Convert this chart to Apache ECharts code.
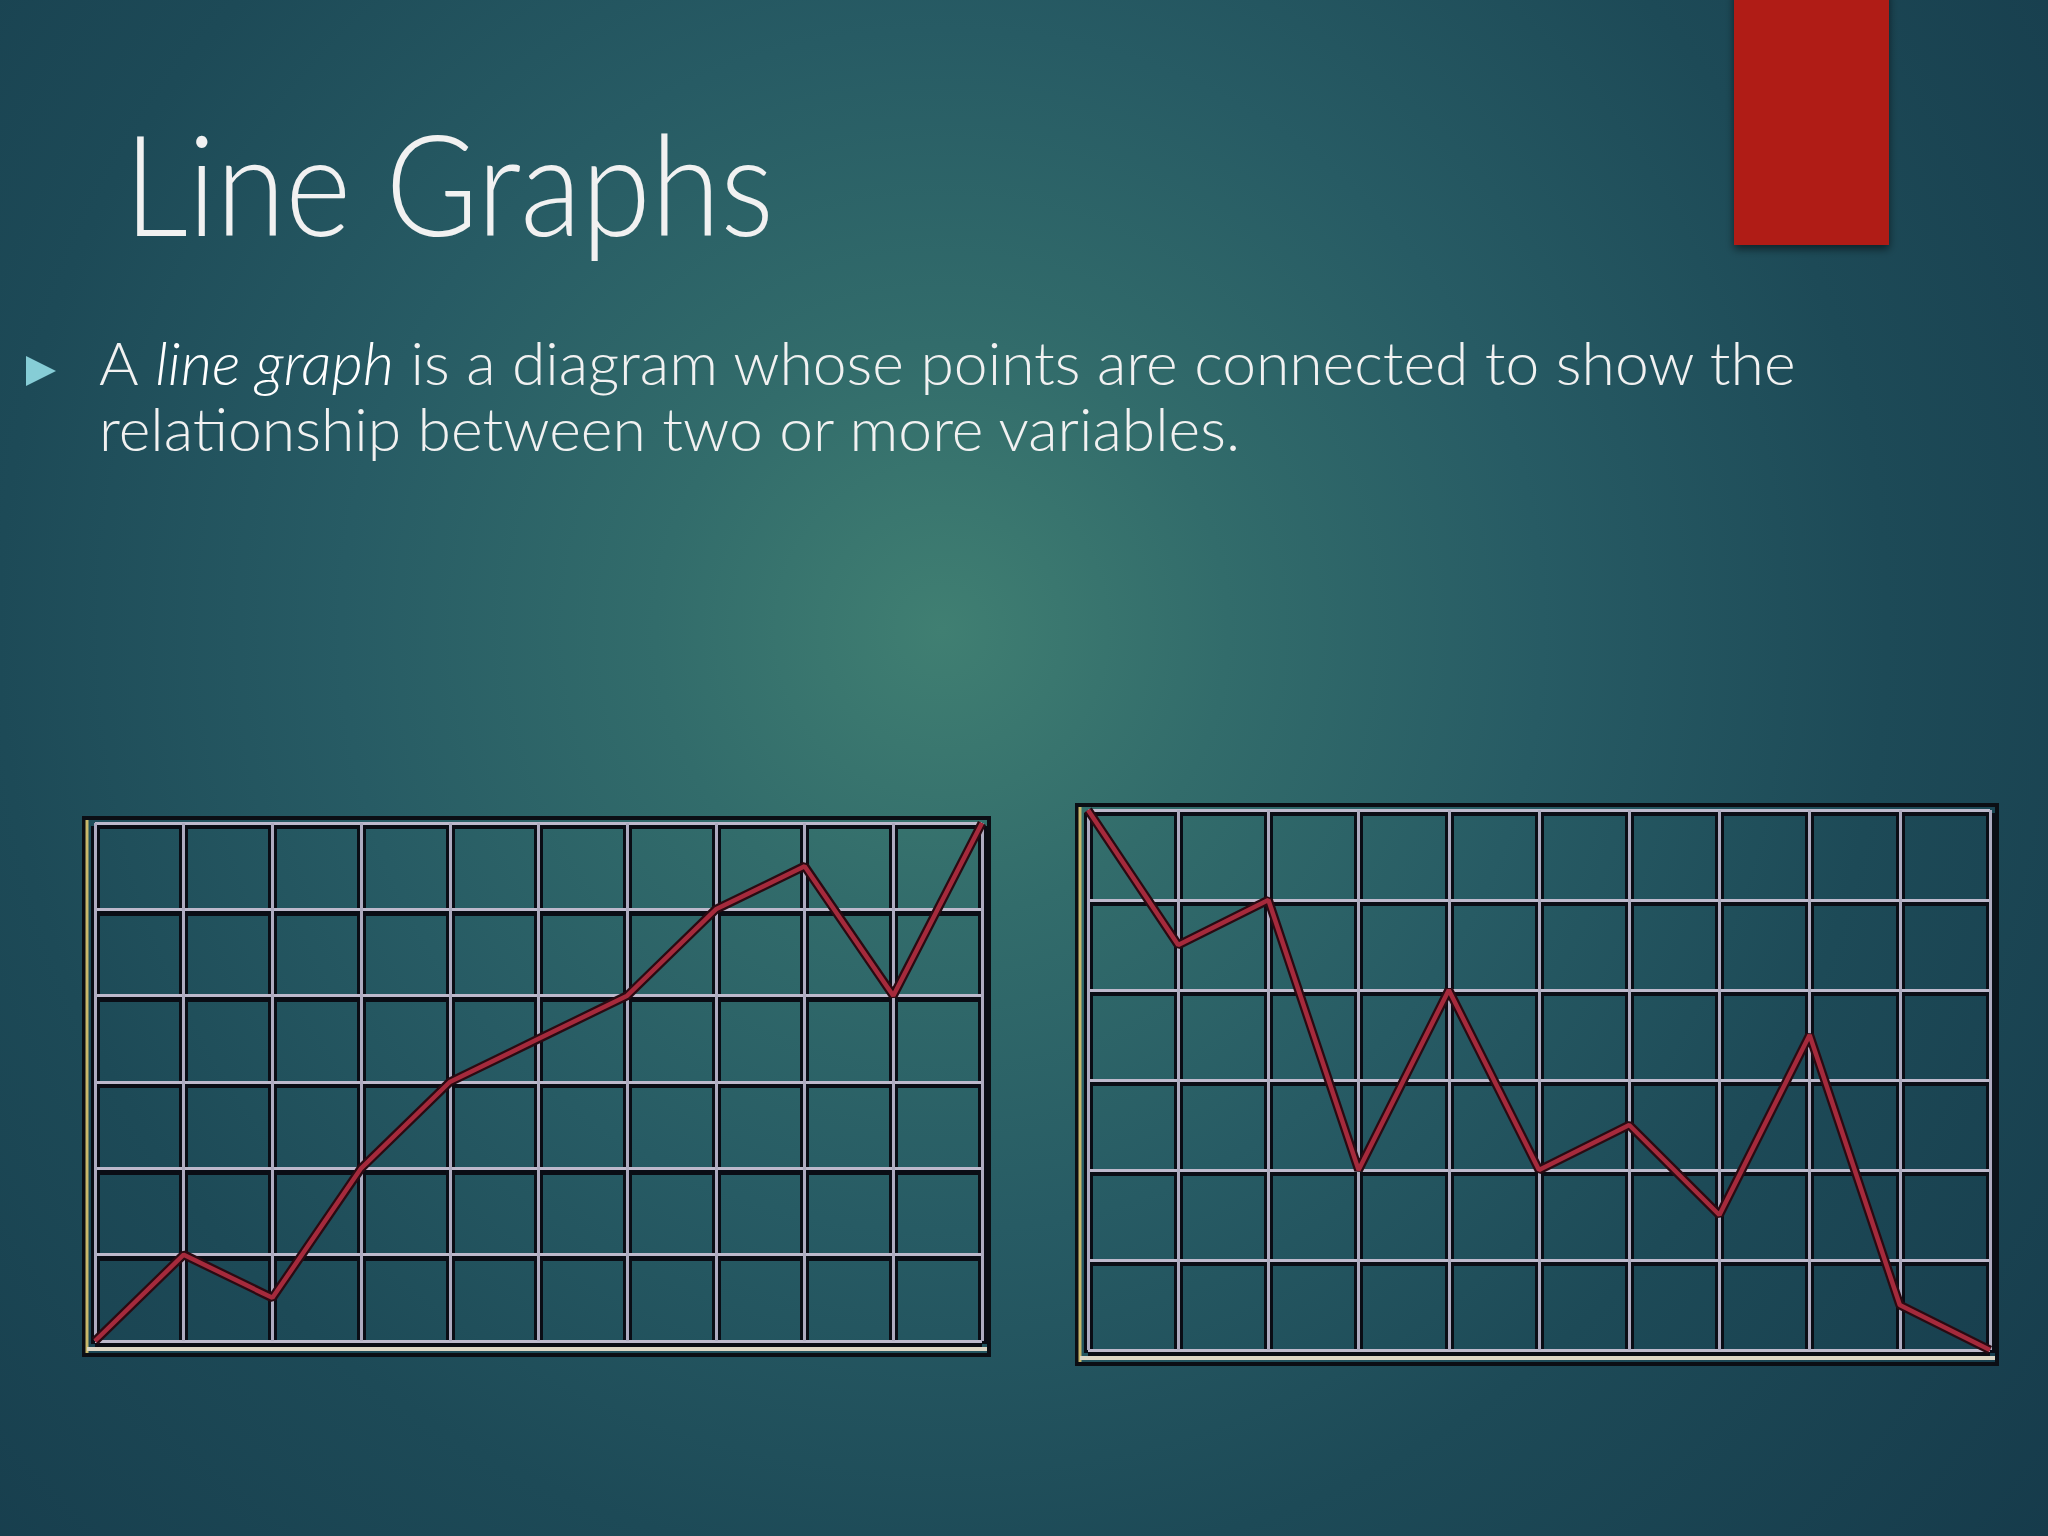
<!DOCTYPE html>
<html>
<head>
<meta charset="utf-8">
<title>Line Graphs</title>
<script src="https://cdn.jsdelivr.net/npm/echarts@6/dist/echarts.min.js"></script>
<style>
  html, body { margin: 0; padding: 0; }
  #main {
    width: 2048px;
    height: 1536px;
    background: radial-gradient(circle at 46% 41%, #407f72 0%, #326c6b 20%, #275b64 42%, #1d4a57 66%, #163b4b 100%);
  }
</style>
</head>
<body>
<div id="main"></div>
<script>
// data (grid units: 10 across, 6 up)
var xSteps = [0, 1, 2, 3, 4, 5, 6, 7, 8, 9, 10];
var risingValues = [0, 1, 0.5, 2, 3, 3.5, 4, 5, 5.5, 4, 6];
var fallingValues = [6, 4.5, 5, 2, 4, 2, 2.5, 1.5, 3.5, 0.5, 0];
var xMax = 10;
var yMax = 6;

var titleText = 'Line Graphs';
var bodyLine1 = ['A ', 'line graph', ' is a diagram whose points are connected to show the'];
var bodyLine2 = 'relationship between two or more variables.';

// plot areas in page pixels
var boxes = [
  { left: 95, top: 823, width: 887, height: 518, values: risingValues },
  { left: 1088, top: 810, width: 902, height: 540, values: fallingValues }
];

var myChart = echarts.init(document.getElementById('main'), null, { renderer: 'svg' });

var grids = [], xAxes = [], yAxes = [], series = [], graphics = [];

function axis(max, gridIndex, lineColor, lineWidth, z) {
  return {
    type: 'value',
    gridIndex: gridIndex,
    min: 0,
    max: max,
    interval: 1,
    z: z,
    axisLabel: { show: false },
    axisTick: { show: false },
    axisLine: { show: false },
    splitLine: { show: true, lineStyle: { color: lineColor, width: lineWidth } }
  };
}

boxes.forEach(function (b, i) {
  var shadowIdx = i * 2, mainIdx = i * 2 + 1;
  // dark shadow grid, nudged down a little
  grids.push({ left: b.left, top: b.top + 3, width: b.width, height: b.height });
  xAxes.push(axis(xMax, shadowIdx, '#0a0d15', 9, 0));
  yAxes.push(axis(yMax, shadowIdx, '#0a0d15', 6, 0));
  // light grid lines on top
  grids.push({ left: b.left, top: b.top, width: b.width, height: b.height });
  xAxes.push(axis(xMax, mainIdx, '#aeabc0', 3, 1));
  yAxes.push(axis(yMax, mainIdx, '#bdb9cc', 3, 1));

  var pts = xSteps.map(function (x, k) { return [x, b.values[k]]; });
  series.push({
    type: 'line', xAxisIndex: mainIdx, yAxisIndex: mainIdx, data: pts,
    symbol: 'none', clip: false, z: 3,
    lineStyle: { color: '#2a0a12', width: 9 }
  });
  series.push({
    type: 'line', xAxisIndex: mainIdx, yAxisIndex: mainIdx, data: pts,
    symbol: 'none', clip: false, z: 4,
    lineStyle: { color: '#a52a3c', width: 4.5 }
  });

  // picture frame round each graph
  var fl = b.left - 11, ft = b.top - 5;
  var fr = b.left + b.width + 7, fb = b.top + b.height + 14;
  graphics.push({
    type: 'rect', z: -1,
    shape: { x: fl, y: ft, width: fr - fl, height: fb - ft },
    style: { fill: 'none', stroke: '#0b0e14', lineWidth: 4 }
  });
  graphics.push({
    type: 'line', z: -1,
    shape: { x1: fl + 3, y1: ft + 2, x2: fl + 3, y2: fb - 2 },
    style: { stroke: '#c9b86a', lineWidth: 3 }
  });
  graphics.push({
    type: 'line', z: -1,
    shape: { x1: fl + 3, y1: fb - 6, x2: fr - 2, y2: fb - 6 },
    style: { stroke: '#ddd6c4', lineWidth: 4 }
  });
});

// slide decorations and text
graphics.push({
  type: 'rect',
  shape: { x: 1734, y: -10, width: 155, height: 255 },
  style: { fill: '#b01a16', shadowBlur: 8, shadowOffsetY: 4, shadowColor: 'rgba(0,0,0,0.55)' }
});
graphics.push({
  type: 'polygon',
  shape: { points: [[26, 356], [56, 371], [26, 386]] },
  style: { fill: '#86cdd6' }
});
graphics.push({
  type: 'text',
  x: 124, y: 181,
  scaleX: 0.895,
  style: {
    x: 0, y: 0, text: titleText,
    fontFamily: 'Lato', fontWeight: 300, fontSize: 141,
    fill: '#f1f1f1', verticalAlign: 'middle'
  }
});
graphics.push({
  type: 'text',
  x: 99, y: 329,
  scaleX: 1.01,
  style: {
    x: 0, y: 0,
    text: '{n|' + bodyLine1[0] + '}{i|' + bodyLine1[1] + '}{n|' + bodyLine1[2] + '}\n{n|' + bodyLine2 + '}',
    verticalAlign: 'top',
    fill: '#f1f1f1',
    rich: {
      n: { fontFamily: 'Lato', fontWeight: 300, fontSize: 60, lineHeight: 66, fill: '#f1f1f1' },
      i: { fontFamily: 'Lato', fontWeight: 300, fontStyle: 'italic', fontSize: 60, lineHeight: 66, fill: '#ffffff' }
    }
  }
});

var option = {
  animation: false,
  backgroundColor: 'transparent',
  grid: grids,
  xAxis: xAxes,
  yAxis: yAxes,
  series: series,
  graphic: graphics
};
myChart.setOption(option);
</script>
</body>
</html>
